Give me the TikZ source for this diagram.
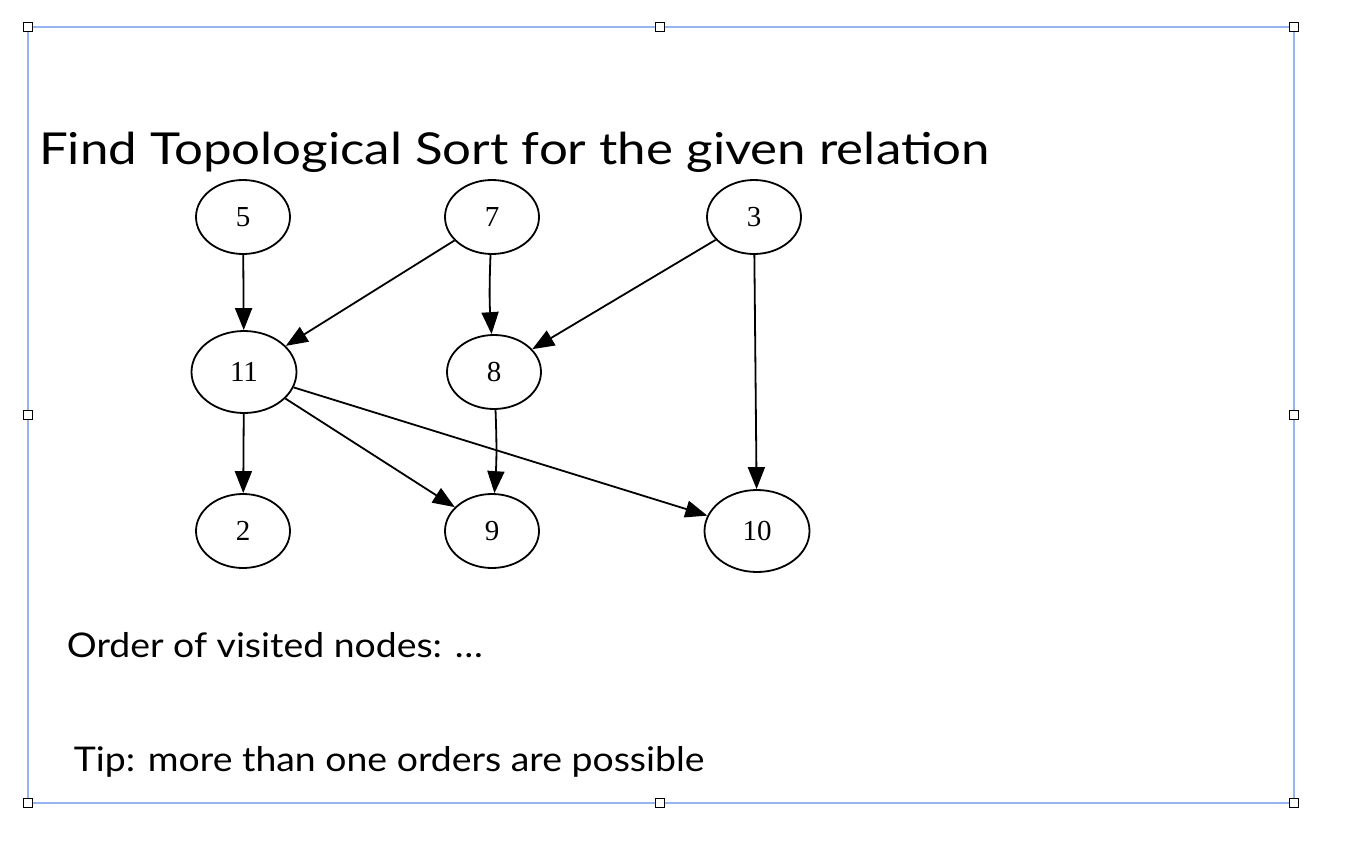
\documentclass[tikz,border=0pt]{standalone}
\usepackage{fontspec}
\setmainfont{Liberation Serif}
\newfontfamily\lab{Lato}
\usetikzlibrary{shapes.geometric,arrows.meta}
\begin{document}
\begin{tikzpicture}[x=1pt,y=-1pt,
  vx/.style={ellipse,draw,line width=1.8pt,minimum width=94pt,minimum height=74pt,inner sep=0pt,font=\fontsize{29}{30}\selectfont},
  big/.style={vx,minimum width=105pt,minimum height=82pt},
  ed/.style={line width=1.8pt,-{Triangle[length=22pt,width=17pt]}},
  handle/.style={draw=black,fill=white,minimum size=9pt,inner sep=0pt,line width=0.6pt},
  txt/.style={anchor=base west,xscale=1.1,font=\lab\fontsize{34}{38}\selectfont}]
\useasboundingbox (0,0) rectangle (1348,856);
\fill[white] (0,0) rectangle (1348,856);
\draw[color={rgb,255:red,150;green,180;blue,240},line width=1.2pt] (28,27) rectangle (1294,803);
\foreach \x/\y [count=\i] in {28/27,660/27,1294/27,28/415,1294/415,28/803,660/803,1294/803}
  \node[handle] (h\i) at (\x,\y) {};
\node[txt,xscale=1.055,font=\lab\fontsize{44}{48}\selectfont] (title) at (35,164) {Find Topological Sort for the given relation};
\node[txt] (ord) at (63,657) {Order of visited nodes: \dots};
\node[txt] (tip) at (70,771) {Tip: more than one orders are possible};
\node[vx] (n5) at (243,217) {5};
\node[vx] (n7) at (492,217) {7};
\node[vx] (n3) at (754,217) {3};
\node[big] (n11) at (244,372) {11};
\node[vx] (n8) at (494,372) {8};
\node[vx] (n2) at (243,531) {2};
\node[vx] (n9) at (492,531) {9};
\node[big] (n10) at (757,531) {10};
\draw[ed] (n5) -- (n11);
\draw[ed] (n7) -- (n11);
\draw[ed] (n7) to[bend right=3] (n8);
\draw[ed] (n3) -- (n8);
\draw[ed] (n3) -- (n10);
\draw[ed] (n11) -- (n2);
\draw[ed] (n11) -- (n9);
\draw[ed] (n11) -- (n10);
\draw[ed] (n8) to[bend left=3] (n9);
\end{tikzpicture}
\end{document}
